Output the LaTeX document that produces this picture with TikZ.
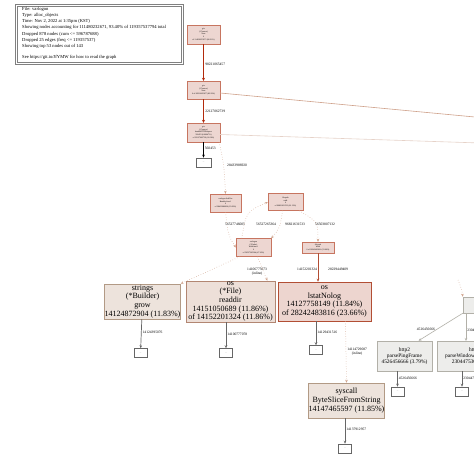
\documentclass[tikz,border=0pt]{standalone}
\usepackage{fontspec}
\setmainfont{Liberation Serif}
\usetikzlibrary{arrows.meta}
\definecolor{fillA}{HTML}{EDD6D1}
\definecolor{drawA}{HTML}{C77560}
\definecolor{fillB}{HTML}{EDE3DC}
\definecolor{drawB}{HTML}{B29A85}
\definecolor{fillC}{HTML}{EDDFD8}
\definecolor{drawC}{HTML}{B28672}
\definecolor{fillD}{HTML}{EDD5CF}
\definecolor{drawD}{HTML}{B24E34}
\definecolor{fillG}{HTML}{EDEDEB}
\definecolor{drawG}{HTML}{B2B0A8}
\definecolor{hot}{HTML}{B22A0C}
\definecolor{warm}{HTML}{CFA18A}
\definecolor{faint}{HTML}{E6D2C8}
\definecolor{tagline}{HTML}{666666}
\begin{document}
\begin{tikzpicture}[x=1pt,y=-1pt,
  fn/.style={draw, rectangle, inner sep=0pt, align=center, line width=0.5pt},
  small/.style={fn, fill=fillA, draw=drawA, line width=0.4pt, font=\fontsize{2}{2.6}\selectfont},
  big/.style={fn, font=\fontsize{8}{8.6}\selectfont},
  mid/.style={fn, fill=fillG, draw=drawG, font=\fontsize{5.4}{6}\selectfont},
  tagbox/.style={draw=tagline, fill=white, line width=0.5pt, inner sep=0pt, minimum width=13pt, minimum height=9pt, font=\fontsize{2}{2}\selectfont},
  lbl/.style={font=\fontsize{3.6}{4}\selectfont, anchor=west, inner sep=0pt, align=center},
  hotedge/.style={draw=hot, line width=1.5pt, -{Stealth[length=3pt,width=3pt]}},
  dotedge/.style={draw=warm, line width=0.5pt, dotted, -{Stealth[length=3pt,width=2.5pt]}},
  tagedge/.style={draw=tagline, line width=0.7pt, -{Stealth[length=3pt,width=2.5pt]}},
  legendtext/.style={font=\fontsize{4.6}{6.2}\selectfont, anchor=north west, align=left, inner sep=0pt}
]
\useasboundingbox (0,0) rectangle (474,462);
\fill[white] (0,0) rectangle (474,462);

% legend
\draw[gray, line width=0.5pt] (15,4) rectangle (183,64);
\draw[gray, line width=0.5pt] (17,6) rectangle (181,62);
\node[legendtext] (legend) at (22,7) {File: varlogon\\Type: alloc\_objects\\Time: Nov 2, 2022 at 1:35pm (KST)\\Showing nodes accounting for 111480232671, 93.40\% of 119357537794 total\\Dropped 878 nodes (cum <= 596787688)\\Dropped 25 edges (freq <= 119357537)\\Showing top 53 nodes out of 143\\[5pt]See https://git.io/JfYMW for how to read the graph};

% small top nodes
\node[small, minimum width=33pt, minimum height=19pt] (A) at (203.5,34.5) {gin\\(*Context)\\Next\\0\\of 114836053671 (96.21\%)};
\node[small, minimum width=33pt, minimum height=18pt] (B) at (203.5,90) {gin\\(*Context)\\Next\\0 of 98221065457 (82.29\%)};
\node[small, minimum width=33pt, minimum height=19pt] (C) at (203.5,132.5) {gin\\(*Context)\\handleHTTPRequest\\560453 (0.00047\%)\\of 22127062739 (18.54\%)};
\node[tagbox, minimum width=15pt] (D) at (203.5,162.5) {...};
\node[small, minimum width=31pt, minimum height=18pt] (E) at (225.5,203) {varlogon.listFiles\\Handler.func1\\0\\of 28433986920 (23.82\%)};
\node[small, minimum width=35pt, minimum height=17pt] (F) at (285.5,202) {filepath\\walk\\0\\of 96821631533 (81.12\%)};
\node[small, minimum width=35pt, minimum height=18pt] (G) at (253.5,247.5) {varlogon\\(*Finder)\\Walk.func1\\0\\of 56527265364 (47.36\%)};
\node[small, minimum width=32pt, minimum height=11pt] (H) at (318,247.5) {filepath\\Walk\\0 of 28242483816 (23.66\%)};

% big nodes
\node[big, fill=fillB, draw=drawB, minimum width=75pt, minimum height=35pt] (grow) at (142.5,301.5) {strings\\(*Builder)\\grow\\14124872904 (11.83\%)};
\node[big, fill=fillC, draw=drawC, minimum width=89pt, minimum height=41pt] (readdir) at (230.5,301.5) {os\\(*File)\\readdir\\14151050689 (11.86\%)\\of 14152201324 (11.86\%)};
\node[big, fill=fillD, draw=drawD, minimum width=93pt, minimum height=39pt] (lstat) at (324.5,301.5) {os\\lstatNolog\\14127758149 (11.84\%)\\of 28242483816 (23.66\%)};
\node[big, fill=fillB, draw=drawB, minimum width=75pt, minimum height=35pt] (bsfs) at (346.5,400.5) {syscall\\ByteSliceFromString\\14147465597 (11.85\%)};

% right side
\node[fn, fill=fillG, draw=drawG, minimum width=18pt, minimum height=16pt] (R) at (472,305) {};
\node[mid, minimum width=55pt, minimum height=30pt] (ping) at (404.5,356) {http2\\parsePingFrame\\4526456666 (3.79\%)};
\node[mid, minimum width=75pt, minimum height=30pt, anchor=west] (wupd) at (437,356) {http2\\parseWindowUpdateFrame\\2304475300 (1.93\%)};

% tag boxes
\node[tagbox] (t1) at (140.5,353) {...};
\node[tagbox] (t2) at (226,353) {...};
\node[tagbox] (t3) at (316,350) {...};
\node[tagbox] (t4) at (345,448.5) {...};
\node[tagbox] (t5) at (397.5,391.5) {...};
\node[tagbox] (t6) at (462,391.5) {...};

% off-canvas coordinates
\coordinate (offB) at (480,117.5);
\coordinate (offC) at (480,143);
\coordinate (offR) at (458,280);

% edges
\draw[hotedge] (A) -- (B) node[lbl, pos=0.55, right=1pt] {98221065457};
\draw[hotedge] (B) -- (C) node[lbl, pos=0.5, right=1pt] {22127062739};
\draw[tagedge, draw=black] (C) -- (D) node[lbl, pos=0.4, right=1pt] {560453};
\draw[draw=warm, line width=0.6pt] (B.east) ++(0,3) -- (offB);
\draw[draw=faint, line width=0.6pt] (C.east) ++(0,2) -- (offC);
\draw[dotedge] (C.south east) ++(-1,0) .. controls (224,165) .. (E.north) ;
\node[lbl] (l1) at (227,165) {28433986920};
\draw[dotedge] (E.south) .. controls (228,235) .. (G.west);
\node[lbl] (l2) at (225,224) {56527746005};
\draw[dotedge] (G.north west) ++(6,0) .. controls (246,212) .. (F.west);
\node[lbl] (l3) at (256,224) {56527265364};
\draw[dotedge] (F.south) ++(-3,0) .. controls (280,228) .. (G.north east);
\node[lbl] (l4) at (285,224) {96821631533};
\draw[dotedge] (F.south east) ++(-4,0) .. controls (318,222) .. (H.north);
\node[lbl] (l5) at (315,224) {56503807132};

\draw[dotedge] (G.south west) ++(4,0) -- (grow.north east);
\node[lbl] (l6) at (247,272) {14106775673\\(inline)};
\draw[dotedge] (G.south) ++(4,0) -- ([xshift=-8pt]readdir.north east);
\node[lbl] (l7) at (297,269) {14152201324};
\draw[dotedge, draw=drawD, solid] (H.south) -- (lstat.north -| H.south);
\node[lbl] (l8) at (328,269) {28229449409};

\draw[tagedge] (grow) -- (t1) node[lbl, pos=0.45, right=1pt] {14124395076};
\draw[tagedge] ([xshift=-4.5pt]readdir.south) -- (t2) node[lbl, pos=0.45, right=1pt] {14100777078};
\draw[tagedge] (lstat.south -| t3) -- (t3) node[lbl, pos=0.45, right=1pt] {14129431516};
\draw[dotedge] ([xshift=21pt]lstat.south) -- (bsfs.north) node[lbl, pos=0.5, right=1pt] {14114729087\\(inline)};
\draw[tagedge] (bsfs.south -| t4) -- (t4) node[lbl, pos=0.45, right=1pt] {14137912957};

\draw[dotedge] (offR) .. controls (462,290) .. (R.north west);
\draw[draw=drawG, line width=0.6pt, -{Stealth[length=3pt,width=2.5pt]}] (R.south west) -- ([xshift=14pt]ping.north) node[lbl, pos=0.6, left=1pt, anchor=east] {4526456666};
\draw[draw=drawG, line width=0.6pt, -{Stealth[length=3pt,width=2.5pt]}] (R.south -| 466,0) -- (466,341) node[lbl, pos=0.6, right=1pt] {2304475300};
\draw[tagedge] (ping.south -| t5) -- (t5) node[lbl, pos=0.45, right=1pt] {4526456666};
\draw[tagedge] (wupd.south -| t6) -- (t6) node[lbl, pos=0.45, right=1pt] {2304475300};
\end{tikzpicture}
\end{document}
